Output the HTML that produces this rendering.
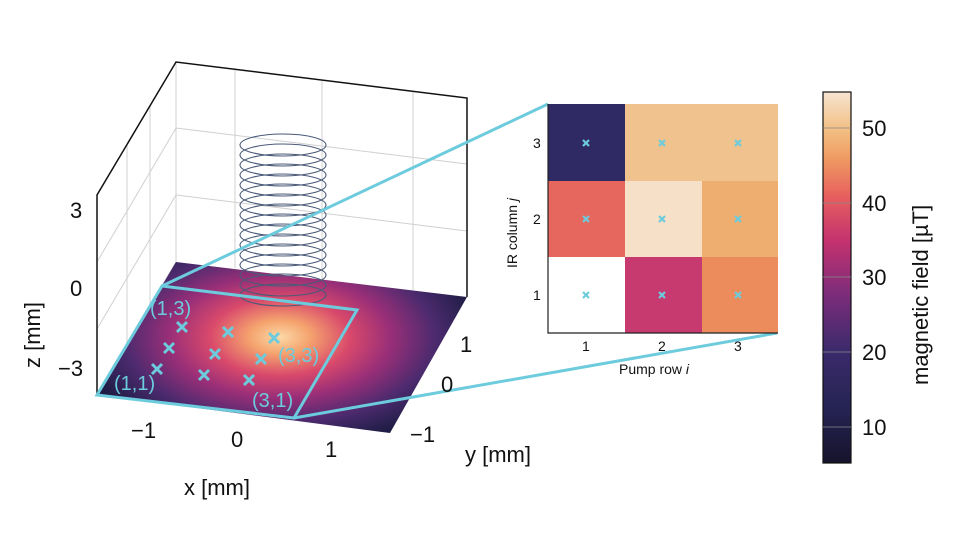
<!DOCTYPE html>
<html><head><meta charset="utf-8"><style>
html,body{margin:0;padding:0;background:#fff;}
svg{display:block;font-family:"Liberation Sans",sans-serif;}
</style></head><body>
<svg width="960" height="540" viewBox="0 0 960 540" xmlns="http://www.w3.org/2000/svg">
<defs>
<radialGradient id="heat" gradientUnits="userSpaceOnUse" cx="280" cy="337" r="200" gradientTransform="translate(280 337) scale(1 0.55) translate(-280 -337)">
<stop offset="0" stop-color="#fbd9a8"/>
<stop offset="0.15" stop-color="#f5a46e"/>
<stop offset="0.35" stop-color="#d9496b"/>
<stop offset="0.55" stop-color="#9a2f78"/>
<stop offset="0.78" stop-color="#4b2a6e"/>
<stop offset="1" stop-color="#1f1d45"/>
</radialGradient>
<linearGradient id="cb" x1="0" y1="1" x2="0" y2="0">
<stop offset="0" stop-color="#16132b"/>
<stop offset="0.15" stop-color="#262454"/>
<stop offset="0.3" stop-color="#3a2a6b"/>
<stop offset="0.45" stop-color="#7a2c7a"/>
<stop offset="0.6" stop-color="#c5326f"/>
<stop offset="0.72" stop-color="#e8605e"/>
<stop offset="0.82" stop-color="#ef9a62"/>
<stop offset="0.9" stop-color="#f2c084"/>
<stop offset="1" stop-color="#f6e4d0"/>
</linearGradient>
<path id="x1" d="M-5,-5L5,5M-5,5L5,-5" stroke="#6ccbdc" stroke-width="3"/>
<path id="x2" d="M-3,-3L3,3M-3,3L3,-3" stroke="#6ccbdc" stroke-width="2.2"/>
</defs>
<g stroke="#d0d0d0" stroke-width="1" fill="none">
<line x1="176" y1="62" x2="176" y2="262"/>
<line x1="235" y1="69" x2="235" y2="268"/>
<line x1="322" y1="80" x2="322" y2="279"/>
<line x1="413" y1="91" x2="413" y2="290"/>
<line x1="176" y1="128" x2="467" y2="164"/>
<line x1="176" y1="195" x2="467" y2="231"/>
<line x1="97" y1="262" x2="176" y2="128"/>
<line x1="97" y1="329" x2="176" y2="195"/>
<line x1="97" y1="395" x2="176" y2="262"/>
<line x1="127" y1="145" x2="127" y2="345"/>
<line x1="150" y1="106" x2="150" y2="306"/>
</g>
<g stroke="#111" stroke-width="1.5" fill="none">
<polyline points="97,395 97,195 176,62 467,98 467,297"/>
</g>
<polygon points="176,262 467,297 390,433 97,395" fill="url(#heat)"/>
<g stroke="#4a5a78" stroke-width="1.1" fill="none">
<ellipse cx="283" cy="145" rx="43" ry="11"/><ellipse cx="283" cy="155" rx="43" ry="11"/>
<ellipse cx="283" cy="165" rx="43" ry="11"/><ellipse cx="283" cy="175" rx="43" ry="11"/>
<ellipse cx="283" cy="185" rx="43" ry="11"/><ellipse cx="283" cy="195" rx="43" ry="11"/>
<ellipse cx="283" cy="205" rx="43" ry="11"/><ellipse cx="283" cy="215" rx="43" ry="11"/>
<ellipse cx="283" cy="225" rx="43" ry="11"/><ellipse cx="283" cy="235" rx="43" ry="11"/>
<ellipse cx="283" cy="245" rx="43" ry="11"/><ellipse cx="283" cy="255" rx="43" ry="11"/>
<ellipse cx="283" cy="265" rx="43" ry="11"/><ellipse cx="283" cy="275" rx="43" ry="11"/>
<ellipse cx="283" cy="285" rx="43" ry="11"/><ellipse cx="283" cy="295" rx="43" ry="11"/>
</g>
<g stroke="#6ccbdc" stroke-width="3" fill="none">
<polygon points="162,286 357,310 294,418 97,395"/>
<line x1="162" y1="286" x2="548" y2="104"/>
<line x1="294" y1="418" x2="777" y2="333"/>
</g>
<g fill="#6ccbdc" font-size="20">
<text x="150" y="315">(1,3)</text>
<text x="278" y="362">(3,3)</text>
<text x="114" y="390">(1,1)</text>
<text x="252" y="407">(3,1)</text>
</g>
<use href="#x1" x="182" y="327"/><use href="#x1" x="228" y="332"/><use href="#x1" x="274" y="338"/>
<use href="#x1" x="169" y="348"/><use href="#x1" x="215" y="354"/><use href="#x1" x="261" y="359"/>
<use href="#x1" x="157" y="369"/><use href="#x1" x="204" y="375"/><use href="#x1" x="249" y="380"/>
<g font-size="22" fill="#111">
<text x="70" y="218">3</text><text x="70" y="296">0</text><text x="58" y="376">−3</text>
<text x="131" y="438">−1</text><text x="231" y="447">0</text><text x="325" y="457">1</text>
<text x="460" y="352">1</text><text x="441" y="392">0</text><text x="410" y="442">−1</text>
<text x="184" y="495">x [mm]</text>
<text x="465" y="462">y [mm]</text>
<text transform="translate(40 368) rotate(-90)">z [mm]</text>
</g>
<g>
<rect x="548" y="104" width="77" height="77" fill="#2f2a63"/>
<rect x="625" y="104" width="77" height="77" fill="#f0c38e"/>
<rect x="702" y="104" width="76" height="77" fill="#f0c38e"/>
<rect x="548" y="181" width="77" height="76" fill="#e6675e"/>
<rect x="625" y="181" width="77" height="76" fill="#f6e0c8"/>
<rect x="702" y="181" width="76" height="76" fill="#eeae70"/>
<rect x="548" y="257" width="77" height="76" fill="#ffffff"/>
<rect x="625" y="257" width="77" height="76" fill="#c63a6f"/>
<rect x="702" y="257" width="76" height="76" fill="#ec8c5c"/>
<polyline points="548,104 548,333 778,333" stroke="#222" stroke-width="1.2" fill="none"/>
<use href="#x2" x="586" y="143"/><use href="#x2" x="662" y="143"/><use href="#x2" x="738" y="143"/>
<use href="#x2" x="586" y="219"/><use href="#x2" x="662" y="219"/><use href="#x2" x="738" y="219"/>
<use href="#x2" x="586" y="295"/><use href="#x2" x="662" y="295"/><use href="#x2" x="738" y="295"/>
<g font-size="14" fill="#111">
<text x="533" y="148">3</text><text x="533" y="224">2</text><text x="533" y="300">1</text>
<text x="582" y="351">1</text><text x="658" y="351">2</text><text x="734" y="351">3</text>
<text x="619" y="374">Pump row <tspan font-style="italic">i</tspan></text>
<text transform="translate(517 268) rotate(-90)">IR column <tspan font-style="italic">j</tspan></text>
</g>
</g>
<rect x="823" y="92" width="28" height="371" fill="url(#cb)" stroke="#111" stroke-width="1.2"/>
<g stroke="#888" stroke-width="0.8">
<line x1="823" y1="128" x2="851" y2="128"/><line x1="823" y1="203" x2="851" y2="203"/>
<line x1="823" y1="277" x2="851" y2="277"/><line x1="823" y1="352" x2="851" y2="352"/>
<line x1="823" y1="427" x2="851" y2="427"/>
</g>
<g font-size="22" fill="#111">
<text x="862" y="136">50</text><text x="862" y="211">40</text><text x="862" y="285">30</text>
<text x="862" y="360">20</text><text x="862" y="435">10</text>
<text transform="translate(928 385) rotate(-90)">magnetic field [µT]</text>
</g>
</svg>
</body></html>
